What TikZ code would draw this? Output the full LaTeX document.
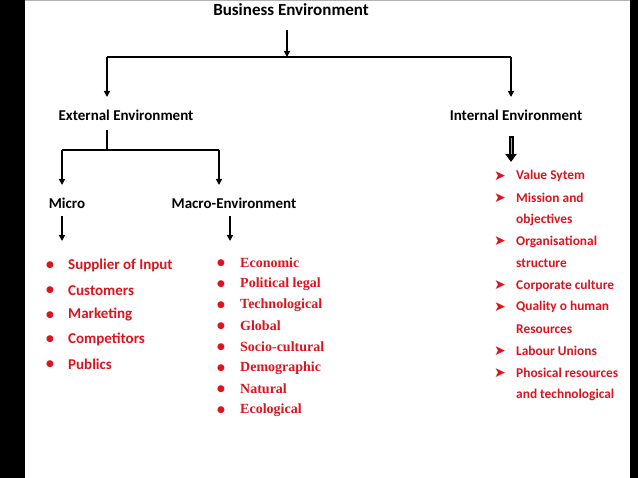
\documentclass[tikz,border=0pt]{standalone}
\usepackage{fontspec}
\setmainfont{Carlito}
\newfontfamily\symf{DejaVu Sans}
\newfontfamily\serifb{Liberation Serif}
\usetikzlibrary{arrows.meta}
\definecolor{itemred}{RGB}{220,20,30}
\begin{document}
\begin{tikzpicture}[x=1pt,y=-1pt,
  head/.style={font=\bfseries\fontsize{15}{17}\selectfont},
  itm/.style={anchor=west,inner sep=0,text=itemred,font=\bfseries\fontsize{15}{17}\selectfont},
  bul/.style={inner sep=0,text=itemred,font=\fontsize{9}{11}\selectfont},
  arr/.style={draw,line width=1.4pt,-{Triangle[length=6pt,width=6pt]}},
  ln/.style={draw,line width=1.4pt}]
\useasboundingbox (0,0) rectangle (638,478);
\fill[black] (0,0) rectangle (25,478);
\fill[black] (630,0) rectangle (638,478);
\draw[gray!60] (25,0.5) -- (630,0.5);
\node[head,font=\bfseries\fontsize{17}{19}\selectfont] (be) at (291,10) {Business Environment};
\node[head] (ee) at (126,115) {External Environment};
\node[head] (ie) at (516,115) {Internal Environment};
\node[head] (mi) at (67,203) {Micro};
\node[head] (ma) at (234,203) {Macro-Environment};
\coordinate (t0) at (287,30); \coordinate (t1) at (287,57);
\coordinate (hl) at (107,57); \coordinate (hr) at (511,57);
\coordinate (el) at (107,97); \coordinate (er) at (511,97);
\draw[arr] (t0) -- (t1);
\draw[ln] (hl) -- (hr);
\draw[arr] (hl) -- (el);
\draw[arr] (hr) -- (er);
\coordinate (e0) at (107,130); \coordinate (e1) at (107,150);
\coordinate (ml) at (62,150); \coordinate (mr) at (219,150);
\draw[ln] (e0) -- (e1);
\draw[ln] (ml) -- (mr);
\draw[arr] (ml) -- (62,185);
\draw[arr] (mr) -- (219,185);
\draw[arr] (62,216) -- (62,241);
\draw[arr] (230,216) -- (230,241);
\draw[line width=5pt,-{Triangle[length=8pt,width=11pt]}] (511,136) -- (511,162);
\draw[gray!70,line width=0.8pt,shorten >=6pt] (511,138) -- (511,160);
% micro
\foreach \t [count=\i] in {Supplier of Input,Customers,Marketing,Competitors,Publics}{
  \pgfmathsetmacro\yy{241+24.6*\i}
  \node[bul] (mb\i) at (50,\yy) {\symf ●};
  \node[itm] (m\i) at (68,\yy) {\t};}
% macro
\foreach \t [count=\i] in {Economic,Political legal,Technological,Global,Socio-cultural,Demographic,Natural,Ecological}{
  \pgfmathsetmacro\yy{242+21*\i}
  \node[bul] (ab\i) at (221,\yy) {\symf ●};
  \node[itm,font=\serifb\bfseries\fontsize{14}{16}\selectfont] (a\i) at (240,\yy) {\t};}
% internal
\foreach \t/\b [count=\i] in {Value Sytem/1,Mission and/1,objectives/0,Organisational/1,structure/0,Corporate culture/1,Quality o human/1,Resources/0,Labour Unions/1,Phosical resources/1,and technological/0}{
  \pgfmathsetmacro\yy{154+21.9*\i}
  \ifnum\b=1 \node[bul,font=\fontsize{14}{16}\selectfont] (ib\i) at (500,\yy) {\symf ➤};\fi
  \node[itm,font=\bfseries\fontsize{13.4}{15}\selectfont] (i\i) at (516,\yy) {\t};}
\end{tikzpicture}
\end{document}
